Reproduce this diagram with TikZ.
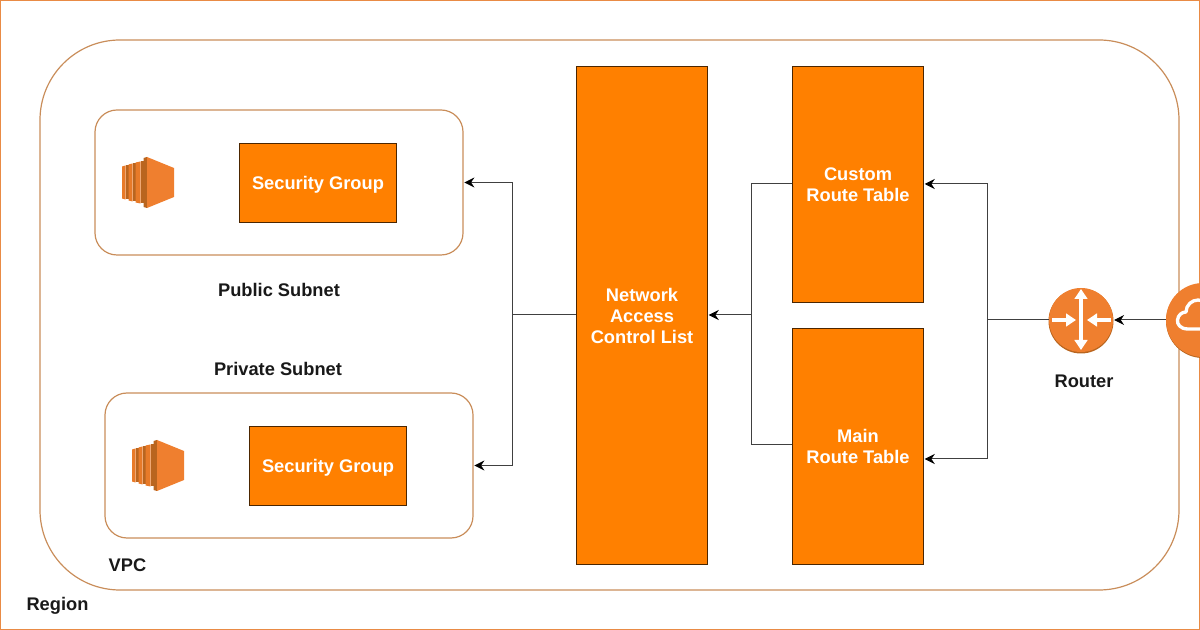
\documentclass[tikz,border=0pt]{standalone}
\usepackage{fontspec}
\setmainfont{Liberation Sans}
\usetikzlibrary{arrows.meta}
\definecolor{fill1}{HTML}{FF8000}
\definecolor{edge1}{HTML}{C98D5A}
\definecolor{frame1}{HTML}{E98B45}
\definecolor{iconA}{HTML}{EF7F2F}
\definecolor{iconB}{HTML}{B9651F}
\definecolor{iconC}{HTML}{E87A28}
\newcommand{\lowered}{\rule{0pt}{11.3pt}}
\tikzset{
  x=0.75pt,y=-0.75pt,
  conn/.style={draw=black!75,line width=0.75pt},
  arr/.style={conn,shorten >=0.6pt,-{Stealth[length=7.5pt,width=7.5pt,inset=2.5pt,black]}},
  bluebox/.style={rectangle,draw=black!70!fill1,fill=fill1,line width=0.65pt,text=white,font=\bfseries\fontsize{13.7pt}{15.75pt}\selectfont,align=center,inner sep=0pt},
  tallbox/.style={bluebox,minimum width=98.25pt},
  sgbox/.style={bluebox,minimum width=117.75pt,minimum height=59.25pt,text height=9.8pt,text depth=0pt},
  subnet/.style={rectangle,rounded corners=16.5pt,draw=edge1,line width=0.9pt,minimum width=276pt,minimum height=108.75pt,inner sep=0pt},
  lab/.style={font=\bfseries\fontsize{13.7pt}{16pt}\selectfont,text=black!90,inner sep=0pt},
  ring/.style={circle,fill=iconA,minimum size=48pt,inner sep=0pt},
  wh/.style={draw=white,line width=2.7pt,-{Triangle[length=7.5pt,width=9.5pt,fill=white]}},
}
\newcommand{\ecicon}[2]{%
  \begin{scope}[shift={(#1,#2)}]
    \fill[iconC] (0,9.5) -- (3.5,8.5) -- (3.5,42.5) -- (0,41.5) -- cycle;
    \fill[iconB] (3.5,8.5) -- (6.5,8.5) -- (6.5,42.5) -- (3.5,42.5) -- cycle;
    \fill[iconC] (6.5,7.5) -- (10.5,6.5) -- (10.5,44.5) -- (6.5,43.5) -- cycle;
    \fill[iconB] (10.5,6.5) -- (13.5,6.5) -- (13.5,44.5) -- (10.5,44.5) -- cycle;
    \fill[iconC] (13.5,5.5) -- (18.5,4.5) -- (18.5,46.5) -- (13.5,45.5) -- cycle;
    \fill[iconB] (18.5,4.5) -- (21.5,4.5) -- (21.5,46.5) -- (18.5,46.5) -- cycle;
    \fill[iconB] (21.5,1) -- (25,0) -- (25,51) -- (21.5,50) -- cycle;
    \fill[iconA] (25,0) -- (52,11) -- (52,40) -- (25,51) -- cycle;
  \end{scope}}
\begin{document}
\begin{tikzpicture}
\useasboundingbox (0,0) rectangle (1200,630);
\clip (0,0) rectangle (1200,630);
\draw[frame1,line width=2pt] (0,0) rectangle (1200,630);
\node[rectangle,draw=edge1,line width=0.9pt,rounded corners=60pt,minimum width=854.25pt,minimum height=412.5pt,inner sep=0pt] (vpc) at (609.5,315) {};
\node[subnet] (pub) at (279,182.5) {};
\node[subnet] (priv) at (289,465.5) {};
\node[sgbox] (sg1) at (318,182.5) {Security Group};
\node[sgbox] (sg2) at (328,465.5) {Security Group};
\ecicon{122}{157}
\ecicon{132}{440}
\node[tallbox,minimum height=373.5pt] (nacl) at (642,315) {\lowered Network\\Access\\Control List};
\node[tallbox,minimum height=177pt] (crt) at (858,184) {\lowered Custom\\Route Table};
\node[tallbox,minimum height=177pt] (mrt) at (858,446) {\lowered Main\\Route Table};
\fill[iconB] (1081,321) circle (32.5);
\node[ring] (router) at (1081,320) {};
\draw[wh] (1081,320) -- (1081,289);
\draw[wh] (1081,320) -- (1081,350);
\draw[wh] (1052,320) -- (1076,320);
\draw[wh] (1111,320) -- (1087,320);
\fill[iconB] (1203,321) circle (37);
\node[ring,minimum size=55.5pt] (igw) at (1203,320) {};
\draw[white,line width=2.5pt,line join=round] (1205,329) -- (1188,329)
  .. controls (1180,329) and (1177,324) .. (1177.5,320)
  .. controls (1178,315) and (1182,312) .. (1186,312)
  .. controls (1186,305) and (1192,300) .. (1198,300)
  .. controls (1201,300) and (1203,301) .. (1205,302);
\node[lab] (lpub) at (279,289.5) {Public Subnet};
\node[lab] (lpriv) at (278,368.5) {Private Subnet};
\node[lab] (lrouter) at (1084,381) {Router};
\node[lab] (lvpc) at (127.5,565) {VPC};
\node[lab] (lregion) at (57.5,606) {Region};
% connectors
\coordinate (j1) at (512,315);
\coordinate (j2) at (751,315);
\coordinate (j3) at (987,320);
\coordinate (mw) at (mrt.west |- 0,445);
\coordinate (me) at (mrt.east |- 0,459);
\draw[conn] (nacl.west) -- (j1);
\draw[arr] (j1) |- (pub.east);
\draw[arr] (j1) |- (priv.east);
\draw[conn] (crt.west) -| (j2);
\draw[conn] (mw) -| (j2);
\draw[arr] (j2) -- (nacl.east);
\draw[conn] (router.west) -- (j3);
\draw[arr] (j3) |- (crt.east);
\draw[arr] (j3) |- (me);
\draw[arr] (igw.west |- router.east) -- (router.east);
\end{tikzpicture}
\end{document}
